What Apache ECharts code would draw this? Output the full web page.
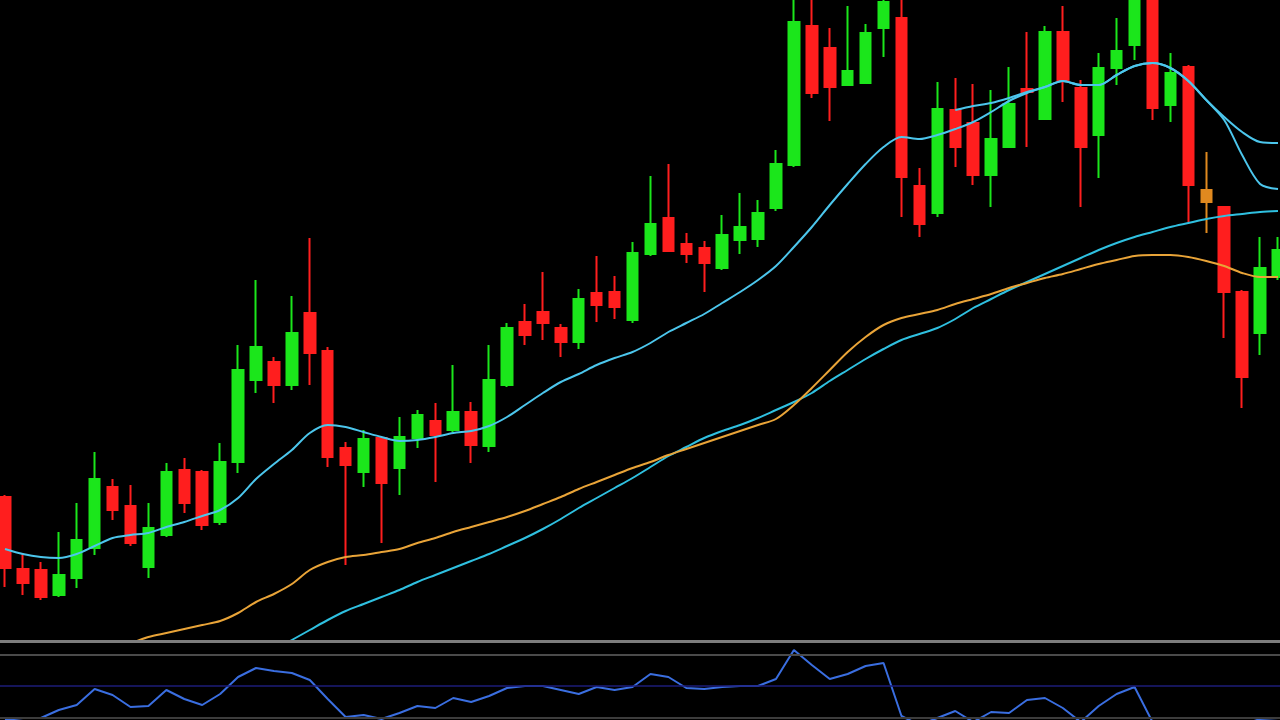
<!DOCTYPE html>
<html>
<head>
<meta charset="utf-8">
<script src="https://cdn.jsdelivr.net/npm/echarts@6/dist/echarts.min.js"></script>
<style>
html,body{margin:0;padding:0;background:#000;}
#chart{width:1280px;height:720px;}
</style>
</head>
<body>
<div id="chart"></div>
<script>
// ---- data (price units are arbitrary) ----
const categories = ['1','2','3','4','5','6','7','8','9','10','11','12','13','14','15','16','17','18','19','20','21','22','23','24','25','26','27','28','29','30','31','32','33','34','35','36','37','38','39','40','41','42','43','44','45','46','47','48','49','50','51','52','53','54','55','56','57','58','59','60','61','62','63','64','65','66','67','68','69','70','71','72'];

// [open, close, low, high]
const candles = [
  [143,72,53,145],[71,57,45,87],[70,43,40,78],[45,65,43,108],[62,100,52,137],
  [92,161,85,188],[153,130,120,161],[134,97,94,155],[73,112,62,137],[105,168,103,177],
  [170,137,127,182],[168,115,110,170],[118,178,115,197],[178,270,167,295],[260,293,247,360],
  [278,255,237,283],[255,307,250,344],[327,287,255,402],[289,183,173,293],[192,175,75,198],
  [168,201,153,210],[202,157,97,203],[172,203,145,223],[202,225,192,230],[219,205,158,237],
  [210,228,208,275],[228,195,177,238],[194,260,188,295],[255,312,253,317],[318,305,295,336],
  [328,317,300,368],[312,298,283,316],[298,341,291,351],[347,335,318,384],[348,333,321,364],
  [320,387,317,398],[386,416,384,464],[422,389,388,476],[396,386,377,407],[392,377,348,399],
  [372,405,370,425],[400,413,386,447],[401,427,393,440],[432,476,429,490],[475,618,473,650],
  [614,547,542,648],[592,553,519,612],[555,569,555,634],[557,607,556,616],[612,638,583,655],
  [622,463,423,650],[454,416,403,472],[427,531,423,558],[530,493,473,562],[517,465,455,556],
  [465,501,433,550],[493,536,492,573],[551,548,493,608],[521,608,520,614],[608,560,538,634],
  [552,493,433,560],[505,572,462,587],[572,589,555,622],[595,660,580,670],[665,532,520,680],
  [535,567,518,587],[573,455,418,575],[450,438,407,488],[433,348,302,434],[348,263,232,350],
  [307,372,285,403],[363,390,360,403]
];
const neutralIndex = 67; // the single orange candle

const maFast = [91,86,83,82,86,94,102,105,107,113,118,124,130,142,161,176,190,207,215,213,
  208,203,199,200,203,207,209,214,223,235,247,258,266,275,282,288,297,308,317,326,
  337,348,360,374,393,413,435,456,476,493,503,501,505,511,518,528,539,547,553,559,
  555,555,565,574,577,572,559,540,523,508,498,497];

const maFast2 = ['-','-','-','-','-','-','-','-','-','-','-','-','-','-','-','-','-','-','-','-',
  '-','-','-','-','-','-','-','-','-','-','-','-','-','-','-','-','-','-','-','-',
  '-','-','-','-','-','-','-','-','-','-','-','-','-',530,534,537,542,548,553,559,
  555,555,565,574,577,572,559,540,520,485,456,451];

const maMid = ['-','-','-','-','-','-',-8,-3,3,7,11,15,19,27,38,46,56,70,78,83,
  85,88,91,97,102,108,113,118,123,129,136,143,151,158,165,172,178,185,191,197,
  203,209,215,221,235,252,270,288,303,315,322,326,330,336,341,346,352,357,362,366,
  371,376,380,384,385,385,383,379,374,367,363,363];

const maSlow = ['-','-','-','-','-','-','-','-','-','-','-','-','-','-','-',-10,0,10,20,29,
  36,43,50,58,65,72,79,86,94,102,111,121,132,142,152,162,173,184,193,202,
  209,215,222,230,238,247,259,270,281,291,300,306,312,321,332,341,350,358,366,374,
  382,390,397,403,408,413,417,421,424,426,428,429];

const oscillator = [0,2,2,10,15,31,25,13,14,30,21,15,26,43,52,49,47,40,21,3,
  5,1,7,14,12,22,18,24,32,34,34,30,26,33,30,33,46,43,32,31,
  33,34,34,41,70,55,41,46,54,57,4,-5,2,9,-2,8,7,20,22,12,
  -2,14,26,33,-2,-2,-5,-5,-5,-5,1,2];

const oscLevels = [79, 65, 34, 2];

// ---- chart ----
const GREEN = '#1be61b', RED = '#ff1e1e', ORANGE = '#e0891f';
const candleData = candles.map((c, i) => i === neutralIndex
  ? { value: c, itemStyle: { color: ORANGE, color0: ORANGE, borderColor: ORANGE, borderColor0: ORANGE } }
  : c);
// index-based pairs so the lines can use a full-width value axis aligned with the candles
const pairs = arr => arr.map((v, i) => [i, v]);

// candle centres: first at x=5, last at x=1278 (72 candles)
const PAD_L = 5, PAD_R = 2, W = 1280;
const step = (W - PAD_L - PAD_R) / (categories.length - 1);
const xMin = -PAD_L / step, xMax = (W - PAD_L) / step;

const chart = echarts.init(document.getElementById('chart'), null, { renderer: 'canvas' });
chart.setOption({
  backgroundColor: '#000000',
  animation: false,
  grid: [
    { left: PAD_L, right: PAD_R, top: 0, height: 640 },
    { left: 0, right: 0, top: 0, height: 640 },
    { left: 0, right: 0, top: 640, height: 80 }
  ],
  xAxis: [
    { type: 'category', data: categories, gridIndex: 0, show: false, boundaryGap: false },
    { type: 'value', gridIndex: 1, min: xMin, max: xMax, show: false, splitLine: { show: false } },
    { type: 'value', gridIndex: 2, min: xMin, max: xMax, show: false, splitLine: { show: false } }
  ],
  yAxis: [
    { type: 'value', gridIndex: 0, min: 0, max: 640, show: false, splitLine: { show: false } },
    { type: 'value', gridIndex: 1, min: 0, max: 640, show: false, splitLine: { show: false } },
    { type: 'value', gridIndex: 2, min: 0, max: 80, show: false, splitLine: { show: false } }
  ],
  series: [
    {
      type: 'candlestick', xAxisIndex: 0, yAxisIndex: 0, barWidth: 11, clip: false,
      data: candleData,
      itemStyle: { color: GREEN, color0: RED, borderColor: GREEN, borderColor0: RED, borderWidth: 2 }
    },
    { type: 'line', data: pairs(maSlow), xAxisIndex: 1, yAxisIndex: 1, symbol: 'none', smooth: 0.3, clip: true,
      lineStyle: { color: '#2fc0e0', width: 2 } },
    { type: 'line', data: pairs(maMid), xAxisIndex: 1, yAxisIndex: 1, symbol: 'none', smooth: 0.3, clip: true,
      lineStyle: { color: '#e9a438', width: 2 } },
    { type: 'line', data: pairs(maFast2), xAxisIndex: 1, yAxisIndex: 1, symbol: 'none', smooth: 0.3, clip: true,
      lineStyle: { color: '#4cc6ec', width: 2 } },
    { type: 'line', data: pairs(maFast), xAxisIndex: 1, yAxisIndex: 1, symbol: 'none', smooth: 0.3, clip: true,
      lineStyle: { color: '#4cc6ec', width: 2 } },
    {
      type: 'line', data: pairs(oscillator), xAxisIndex: 2, yAxisIndex: 2, symbol: 'none', clip: true,
      lineStyle: { color: '#3a6ee0', width: 2 }, z: 3,
      markLine: {
        silent: true, symbol: 'none', label: { show: false },
        data: [
          { yAxis: oscLevels[0], lineStyle: { color: '#7d7d7d', width: 3, type: 'solid' } },
          { yAxis: oscLevels[1], lineStyle: { color: '#4a4a4a', width: 2, type: 'solid' } },
          { yAxis: oscLevels[2], lineStyle: { color: '#1c1c78', width: 1.5, type: 'solid' } },
          { yAxis: oscLevels[3], lineStyle: { color: '#3c3c3c', width: 2, type: 'solid' } }
        ]
      }
    }
  ]
});
</script>
</body>
</html>
